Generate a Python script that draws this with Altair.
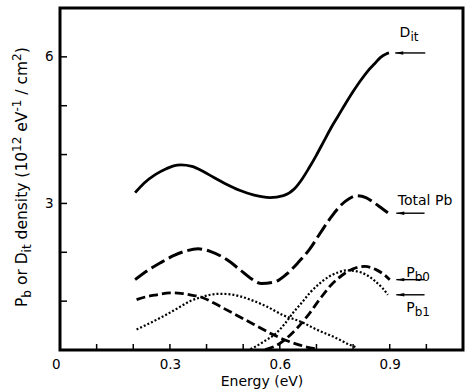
import altair as alt
import pandas as pd

# ---- curve data: energy (eV) vs density (1e12 eV^-1 / cm^2) ----
dit_x = [0.205, 0.23, 0.26, 0.29, 0.31, 0.33, 0.36, 0.39, 0.42, 0.45, 0.49, 0.53,
         0.573, 0.61, 0.64, 0.66, 0.68, 0.70, 0.72, 0.74, 0.76, 0.78, 0.80, 0.82,
         0.84, 0.86, 0.875, 0.89, 0.898]
dit_y = [3.22, 3.42, 3.59, 3.71, 3.77, 3.79, 3.76, 3.66, 3.53, 3.41, 3.27, 3.17,
         3.12, 3.16, 3.30, 3.49, 3.73, 3.99, 4.27, 4.55, 4.80, 5.05, 5.29, 5.51,
         5.71, 5.87, 5.99, 6.06, 6.08]

total_x = [0.205, 0.24, 0.273, 0.31, 0.345, 0.377, 0.41, 0.455, 0.49, 0.52, 0.55,
           0.585, 0.618, 0.65, 0.682, 0.71, 0.74, 0.765, 0.79, 0.81, 0.835, 0.86,
           0.88, 0.897]
total_y = [1.44, 1.63, 1.78, 1.93, 2.03, 2.07, 2.02, 1.85, 1.65, 1.47, 1.36,
           1.39, 1.55, 1.79, 2.07, 2.39, 2.72, 2.95, 3.10, 3.16, 3.12, 3.00,
           2.89, 2.80]

pb0_lo_x = [0.209, 0.235, 0.264, 0.30, 0.33, 0.355, 0.39, 0.42, 0.445, 0.47, 0.50,
            0.53, 0.555, 0.58, 0.60, 0.63, 0.655, 0.68, 0.70]
pb0_lo_y = [1.03, 1.09, 1.13, 1.17, 1.16, 1.13, 1.07, 0.96, 0.86, 0.76, 0.64,
            0.52, 0.42, 0.32, 0.25, 0.16, 0.10, 0.05, 0.02]
pb0_hi_x = [0.56, 0.59, 0.62, 0.65, 0.68, 0.71, 0.74, 0.77, 0.80, 0.832, 0.864,
            0.885, 0.90]
pb0_hi_y = [0.01, 0.09, 0.25, 0.47, 0.74, 1.05, 1.33, 1.53, 1.66, 1.71, 1.64,
            1.54, 1.44]

pb1_lo_x = [0.209, 0.245, 0.282, 0.32, 0.355, 0.385, 0.41, 0.436, 0.465, 0.491,
            0.53, 0.564, 0.61, 0.66, 0.70, 0.75, 0.79, 0.81]
pb1_lo_y = [0.42, 0.55, 0.69, 0.85, 1.00, 1.08, 1.13, 1.15, 1.14, 1.10,
            1.00, 0.89, 0.71, 0.57, 0.42, 0.26, 0.11, 0.05]
pb1_hi_x = [0.52, 0.536, 0.56, 0.591, 0.615, 0.636, 0.66, 0.682, 0.71, 0.736,
            0.76, 0.782, 0.81, 0.836, 0.86, 0.88, 0.895]
pb1_hi_y = [0.02, 0.08, 0.19, 0.35, 0.55, 0.76, 0.97, 1.17, 1.37, 1.51,
            1.59, 1.63, 1.61, 1.54, 1.41, 1.27, 1.13]

# ---- curve labels and their arrows ----
label_main = ["D", "Total Pb", "P", "P"]
label_sub = ["it", "", "b0", "b1"]
label_x = [0.927, 0.922, 0.945, 0.945]
label_y = [6.40, 2.97, 1.50, 0.78]
arrow_y = [6.08, 2.80, 1.44, 1.13]
arrow_tail = [0.997, 0.995, 0.995, 0.995]
arrow_tip = [0.915, 0.918, 0.918, 0.918]

# ---- axes ----
x_label_values = [0, 0.3, 0.6, 0.9]
x_minor_ticks = [0.1, 0.2, 0.3, 0.4, 0.5, 0.6, 0.7, 0.8, 0.9, 1.0]
y_label_values = [3, 6]
y_minor_ticks = [1, 2, 3, 4, 5, 6]
X_MAX, Y_MAX = 1.1, 7

W, H = 403, 342
FONT = "DejaVu Sans"
PX_PER_X = W / X_MAX
PX_PER_Y = H / Y_MAX

# DejaVu Sans advance widths (em) used to lay out the rich-text y title
ADV = {" ": 0.318, "(": 0.390, ")": 0.390, "-": 0.361, "/": 0.337,
       "0": 0.636, "1": 0.636, "2": 0.636, "D": 0.770, "P": 0.603, "V": 0.684,
       "b": 0.635, "c": 0.550, "d": 0.635, "e": 0.615, "i": 0.278, "m": 0.974,
       "n": 0.634, "o": 0.612, "r": 0.411, "s": 0.521, "t": 0.392, "y": 0.592}


def text_width(s, size):
    return sum(ADV.get(c, 0.6) for c in s) * size


def curve_df(segments):
    rows = []
    for seg, (xs, ys) in enumerate(segments):
        for x, y in zip(xs, ys):
            rows.append({"seg": seg, "e": x, "d": y})
    return pd.DataFrame(rows)


x_scale = alt.Scale(domain=[0, X_MAX], nice=False, zero=False)
y_scale = alt.Scale(domain=[0, Y_MAX], nice=False, zero=False)

x_axis = alt.Axis(values=x_label_values, format=".1~f", ticks=False, domain=False,
                  grid=False, labelPadding=7, titlePadding=4,
                  labelAlign={"condition": {"test": "datum.value == 0", "value": "right"},
                              "value": "center"},
                  title="Energy (eV)")
y_axis = alt.Axis(values=y_label_values, format="d", ticks=False, domain=False,
                  grid=False, labelPadding=7, title=None)


def xq(field="e"):
    return alt.X(f"{field}:Q", scale=x_scale, axis=x_axis)


def yq(field="d"):
    return alt.Y(f"{field}:Q", scale=y_scale, axis=y_axis)


def line_layer(df, dash, width):
    kw = {"strokeDash": dash} if dash else {}
    return alt.Chart(df).mark_line(color="black", strokeWidth=width,
                                   interpolate="monotone", **kw).encode(
        x=xq(), y=yq(), detail="seg:N", order="e:Q")


dit = line_layer(curve_df([(dit_x, dit_y)]), None, 2.8)
total = line_layer(curve_df([(total_x, total_y)]), [15, 5], 3)
pb0 = line_layer(curve_df([(pb0_lo_x, pb0_lo_y), (pb0_hi_x, pb0_hi_y)]), [9, 4], 2.8)
pb1 = line_layer(curve_df([(pb1_lo_x, pb1_lo_y), (pb1_hi_x, pb1_hi_y)]), [2, 2], 2.2)

# inward ticks on the bottom and left frame
xt = alt.Chart(pd.DataFrame({"e": x_minor_ticks})).mark_rule(
    color="black", strokeWidth=1.5).encode(x=xq(), y=alt.value(H), y2=alt.value(H - 6))
yt = alt.Chart(pd.DataFrame({"d": y_minor_ticks})).mark_rule(
    color="black", strokeWidth=1.5).encode(y=yq(), x=alt.value(0), x2=alt.value(7))

# arrows pointing at the curve ends
arrows_df = pd.DataFrame({"d": arrow_y, "e": arrow_tail, "tip": arrow_tip,
                          "head": [t + 4 / PX_PER_X for t in arrow_tip]})
shafts = alt.Chart(arrows_df).mark_rule(color="black", strokeWidth=1.4).encode(
    x=xq(), x2="tip:Q", y=yq())
heads = alt.Chart(arrows_df).mark_point(
    shape="M -1 0 L 1 -0.42 L 1 0.42 Z", filled=True, size=64, opacity=1,
    color="black", strokeWidth=0).encode(x=xq("head"), y=yq())

# curve labels with subscripts
LABEL_SIZE, LABEL_SUB = 14, 12
lab_df = pd.DataFrame({"e": label_x, "d": label_y, "t": label_main})
sub_df = pd.DataFrame({
    "e": [x + text_width(m, LABEL_SIZE) / PX_PER_X for x, m in zip(label_x, label_main)],
    "d": label_y, "t": label_sub})
labels = alt.Chart(lab_df).mark_text(
    align="left", baseline="alphabetic", font=FONT, fontSize=LABEL_SIZE,
    color="black").encode(x=xq(), y=yq(), text="t:N")
subs = alt.Chart(sub_df).mark_text(
    align="left", baseline="alphabetic", font=FONT, fontSize=LABEL_SUB, dy=4,
    color="black").encode(x=xq(), y=yq(), text="t:N")

# rotated y title built from pieces (0 = normal, -1 = subscript, 1 = superscript)
title_pieces = [("P", 0), ("b", -1), (" or D", 0), ("it", -1),
                (" density (10", 0), ("12", 1), (" eV", 0), ("-1", 1),
                (" / cm", 0), ("2", 1), (")", 0)]
TITLE_MAIN, TITLE_SMALL = 15.5, 12
title_base_px, title_start_py = -33, 299   # pixels relative to the plot's top-left
rows = []
pos = title_start_py
for s, level in title_pieces:
    size = TITLE_MAIN if level == 0 else TITLE_SMALL
    lead = len(s) - len(s.lstrip(" "))
    px = title_base_px + {0: 0, -1: 4, 1: -6}[level]
    py = pos - text_width(s[:lead], size)
    rows.append({"t": s.strip(), "e": px / PX_PER_X, "d": (H - py) / PX_PER_Y, "fs": size})
    pos -= text_width(s, size)
ytitle = alt.Chart(pd.DataFrame(rows)).mark_text(
    angle=270, align="left", baseline="alphabetic", font=FONT, color="black").encode(
    x=xq(), y=yq(),
    size=alt.Size("fs:Q", scale=None, legend=None),
    text="t:N")

chart = alt.layer(dit, total, pb0, pb1, xt, yt, shafts, heads, labels, subs, ytitle).properties(
    width=W, height=H,
    padding={"left": 60, "top": 8, "right": 11, "bottom": 42},
    autosize=alt.AutoSizeParams(type="none"),
    background="white",
).configure_view(
    stroke="black", strokeWidth=3
).configure_axis(
    labelFont=FONT, labelFontSize=13.5, labelColor="black",
    titleFont=FONT, titleFontSize=14, titleFontWeight="normal", titleColor="black"
)

chart.save("out.html", embed_options={"renderer": "svg", "actions": False})
